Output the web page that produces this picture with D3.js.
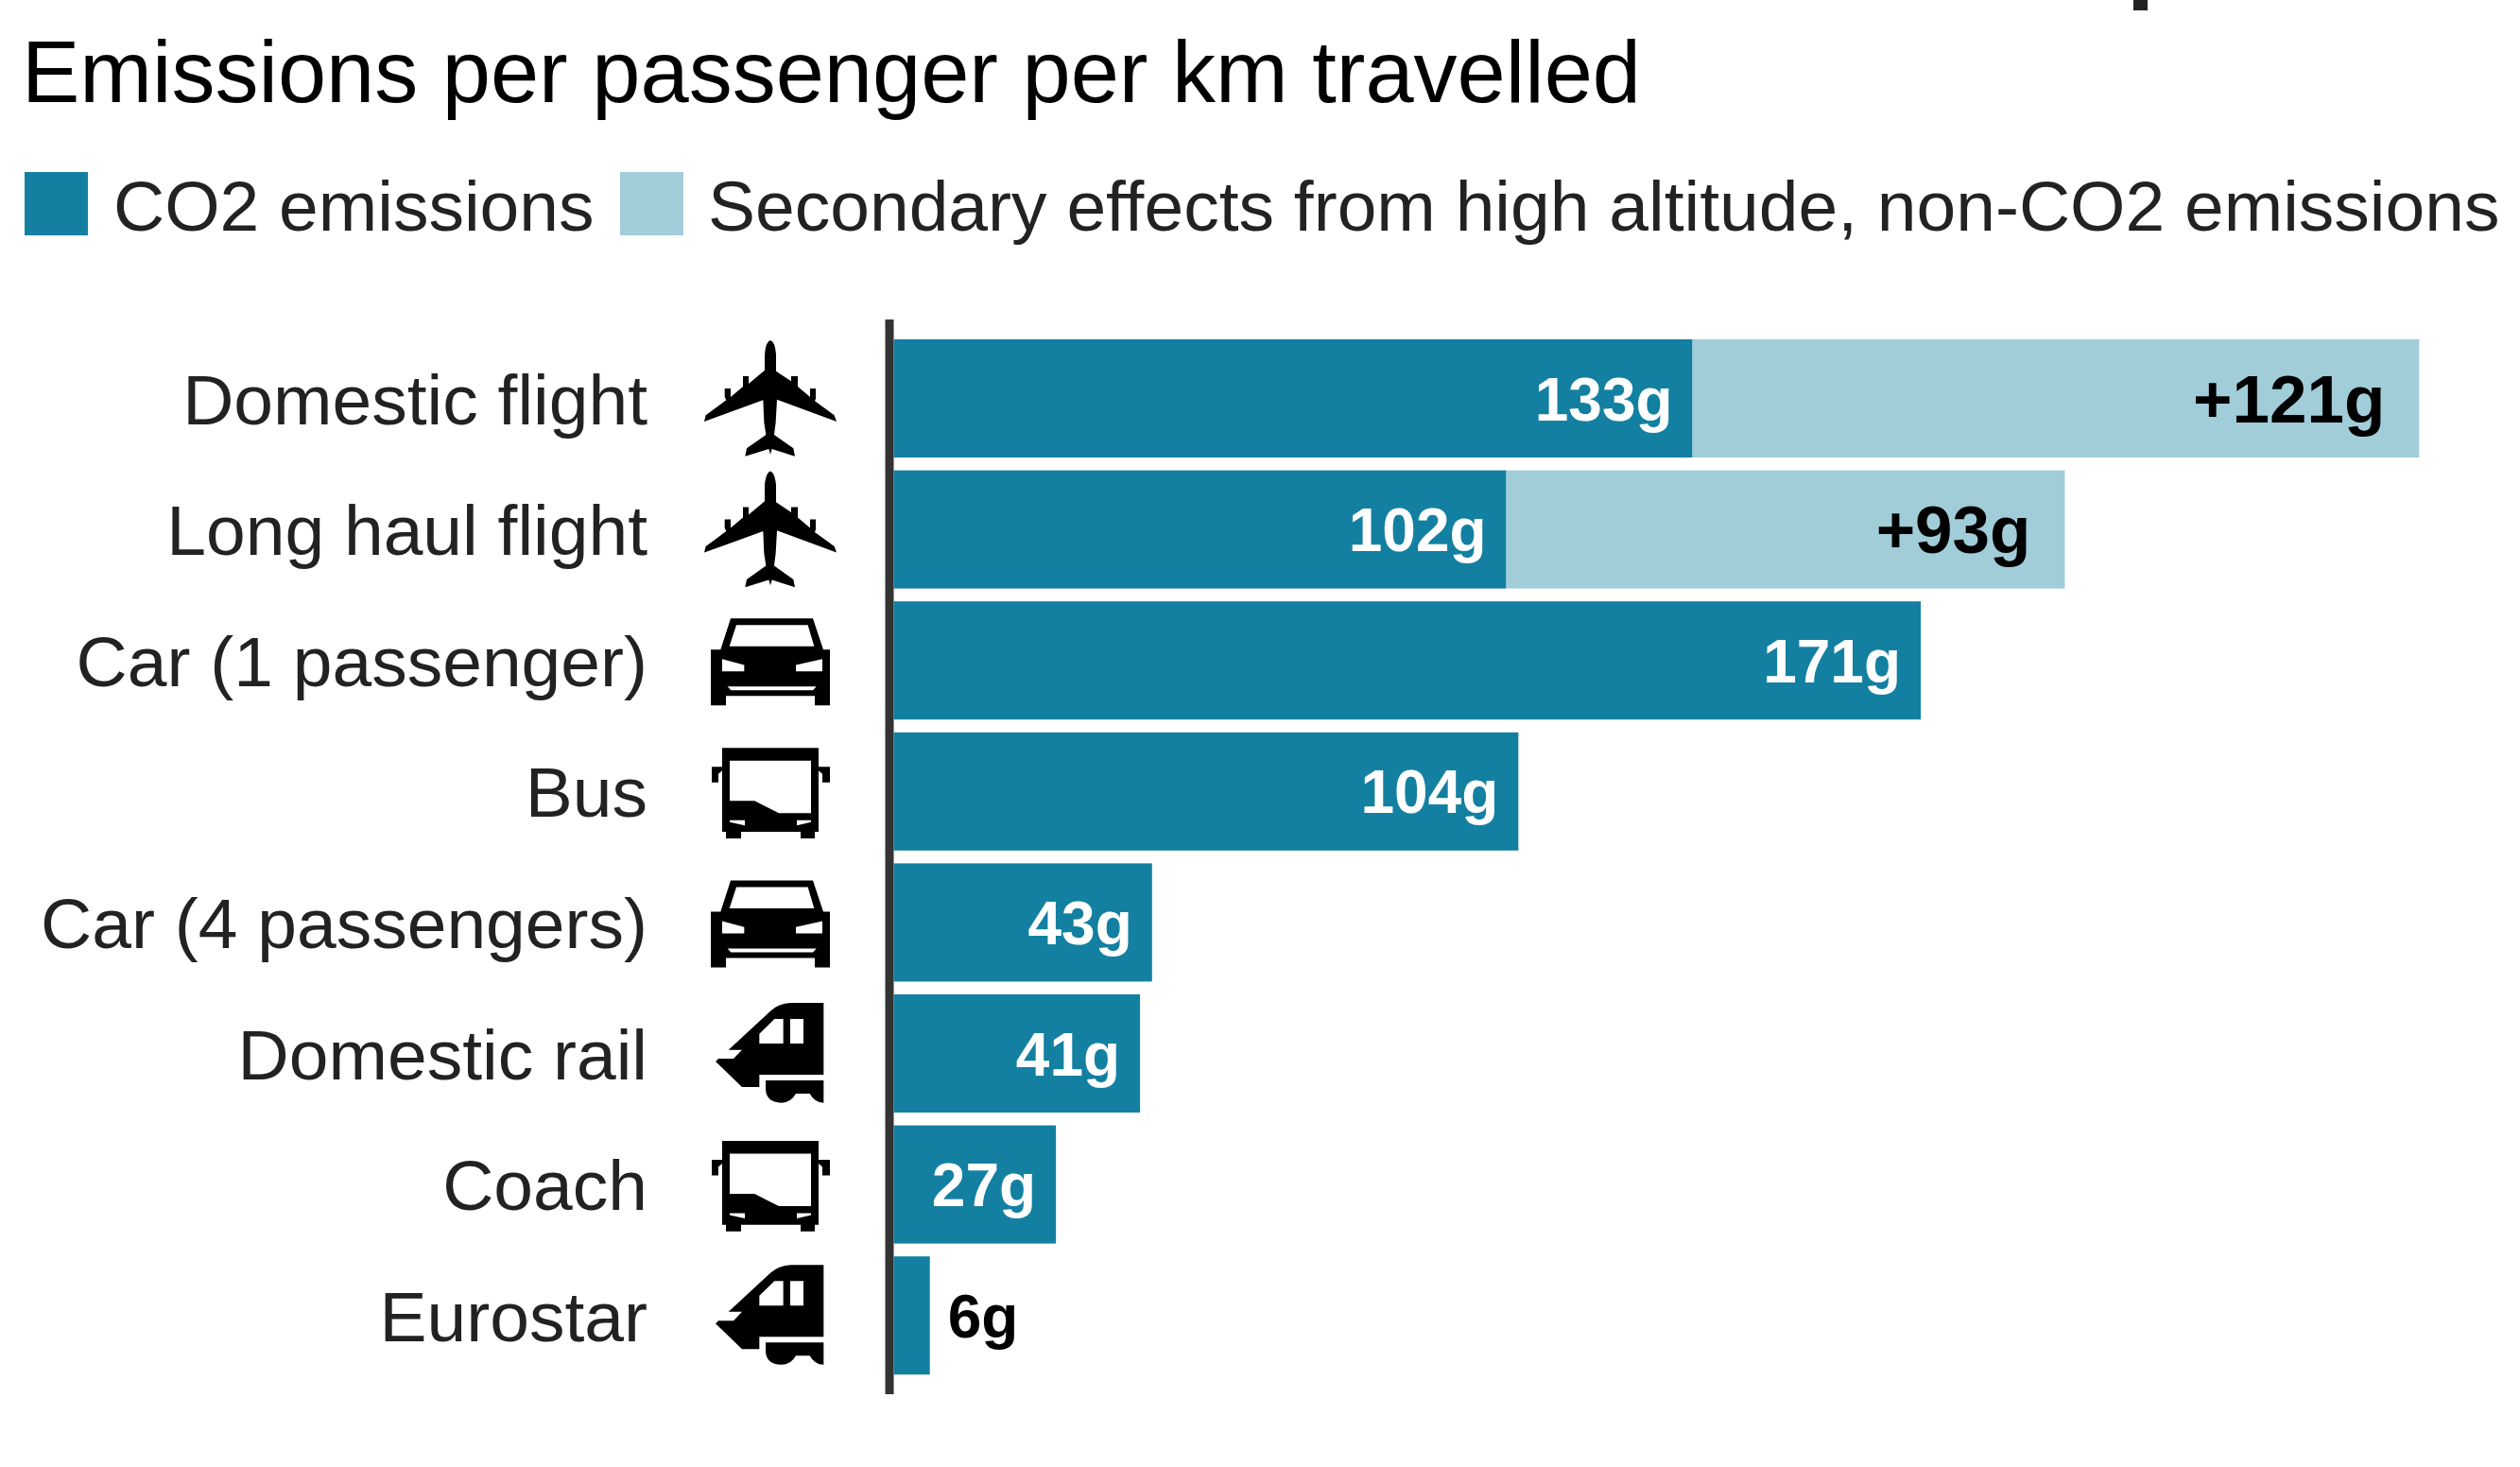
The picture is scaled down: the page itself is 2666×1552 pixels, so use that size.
<!DOCTYPE html>
<html>
<head>
<meta charset="utf-8">
<script src="https://cdn.jsdelivr.net/npm/d3@7/dist/d3.min.js"></script>
<style>
html,body{margin:0;padding:0;background:#fff}
svg{display:block}
text{font-family:"Liberation Sans",Arial,sans-serif}
</style>
</head>
<body>
<svg id="chart" width="2666" height="1552"></svg>
<script>
const categories = ["Domestic flight","Long haul flight","Car (1 passenger)","Bus","Car (4 passengers)","Domestic rail","Coach","Eurostar"];
const co2Values = [133,102,171,104,43,41,27,6];
const secondaryValues = [121,93,0,0,0,0,0,0];
const icons = ["plane","plane","car","bus","car","train","bus","train"];
const legendLabels = ["CO2 emissions","Secondary effects from high altitude, non-CO2 emissions"];
const titleText = "Emissions per passenger per km travelled";
const colors = {co2:"#1380A1", secondary:"#A1CDD9", axis:"#333333", label:"#222222"};

// Icon silhouettes, drawn in a 3x local grid; cy is the vertical centre of each
const iconShapes = {
  plane:{cy:244.5,d:"M345,60 Q330,65 327,105 L327,155 L276,198 L276,174 L258,174 L258,207 L219,240 L219,213 L200,213 L200,240 L205,250 L140,298 L135,318 L322,250 L325,320 L331,360 L270,403 L265,428 L340,405 L345,422 L350,405 L423,428 L418,403 L357,360 L362,320 L366,248 L555,318 L548,298 L486,253 L489,245 L489,213 L471,213 L471,240 L432,207 L432,174 L411,174 L411,190 L363,158 L363,105 Q360,65 345,60 Z"},
  car:{cy:1075.5,d:"M219,942 L480,942 L513,1041 L534,1041 L534,1218 L486,1218 L486,1188 L204,1188 L204,1218 L156,1218 L156,1041 L187,1041 Z M237,963 L215,1031 L484,1031 L464,963 Z M192,1071 L192,1110 L262,1110 L262,1090 Z M510,1071 L426,1090 L426,1110 L510,1110 Z M209,1158 L220,1170 L480,1170 L491,1158 Z"},
  bus:{cy:171,d:"M192,33 L498,33 L498,93 L534,93 L534,142 L510,142 L510,115 L498,105 L498,299 L486,299 L486,320 L441,320 L441,299 L252,299 L252,320 L204,320 L204,299 L192,299 L192,105 L180,115 L180,142 L159,142 L159,93 L192,93 Z M216,73 L216,201 L295,201 L372,240 L474,240 L474,73 Z M216,262 L216,268 L264,279 L264,262 Z M474,262 L429,262 L429,279 L474,268 Z"},
  train:{cy:634.5,d:"M514,474 L410,474 Q370,476 345,500 L212,623 L255,623 L228,651 L180,651 L171,660 L255,741 L310,741 L310,702 L514,702 Z M358,525 L310,572 L310,603 L386,603 L386,525 Z M408,525 L408,603 L450,603 L450,525 Z M330,720 L514,720 L514,791 Q485,790 470,762 L426,762 Q410,791 380,791 Q330,790 330,745 Z"}
};

const svg = d3.select("#chart");
const x = d3.scaleLinear().domain([0,171]).range([945.6,2032]);
const y = d3.scaleBand().domain(categories).range([352.2,1461]).paddingInner(0.098).paddingOuter(0.049);
const rows = categories.map((c,i)=>({c,co2:co2Values[i],sec:secondaryValues[i],icon:icons[i]}));

// Clipped descender of the cut-off heading at the top edge
svg.append("rect").attr("x",2257).attr("y",0).attr("width",15).attr("height",11).attr("fill",colors.label);

svg.append("text").attr("x",23).attr("y",108).attr("font-size",92).attr("fill","#000").text(titleText);

// Legend
const legendX = [[26,120],[656,749]];
const legendFill = [colors.co2,colors.secondary];
legendLabels.forEach((t,i)=>{
  svg.append("rect").attr("x",legendX[i][0]).attr("y",182).attr("width",67).attr("height",67).attr("fill",legendFill[i]);
  svg.append("text").attr("x",legendX[i][1]).attr("y",244).attr("font-size",75).attr("fill",colors.label).text(t);
});

// Bars
svg.append("g").selectAll("rect").data(rows).join("rect")
  .attr("x",x(0)).attr("y",d=>y(d.c)).attr("height",y.bandwidth())
  .attr("width",d=>x(d.co2)-x(0)).attr("fill",colors.co2);
svg.append("g").selectAll("rect").data(rows.filter(d=>d.sec>0)).join("rect")
  .attr("x",d=>x(d.co2)).attr("y",d=>y(d.c)).attr("height",y.bandwidth())
  .attr("width",d=>x(d.co2+d.sec)-x(d.co2)).attr("fill",colors.secondary);

// Baseline
svg.append("line").attr("x1",941).attr("x2",941).attr("y1",338).attr("y2",1475)
  .attr("stroke",colors.axis).attr("stroke-width",9);

// Category labels
const axis = svg.append("g").attr("transform","translate(685,0)")
  .call(d3.axisLeft(y).tickSize(0).tickPadding(0));
axis.select(".domain").remove();
axis.selectAll("text").attr("font-size",75).attr("font-family",null).attr("fill",colors.label).attr("dy",null).attr("y",27);

// Icons
svg.append("g").selectAll("path").data(rows).join("path")
  .attr("fill","#000").attr("fill-rule","evenodd")
  .attr("d",d=>iconShapes[d.icon].d)
  .attr("transform",d=>`translate(700,${y(d.c)+y.bandwidth()/2}) scale(${1/3}) translate(0,${-iconShapes[d.icon].cy})`);

// Value labels
const cy = d=>y(d.c)+y.bandwidth()/2+23;
svg.append("g").selectAll("text").data(rows).join("text")
  .attr("x",d=>d.co2<10?x(d.co2)+19:x(d.co2)-21).attr("y",cy)
  .attr("text-anchor",d=>d.co2<10?"start":"end")
  .attr("font-size",64).attr("font-weight","bold")
  .attr("fill",d=>d.co2<10?"#000":"#fff").text(d=>d.co2+"g");
svg.append("g").selectAll("text").data(rows.filter(d=>d.sec>0)).join("text")
  .attr("x",d=>x(d.co2+d.sec)-36).attr("y",d=>cy(d)+2)
  .attr("text-anchor","end").attr("font-size",71).attr("font-weight","bold")
  .attr("fill","#000").text(d=>"+"+d.sec+"g");
</script>
</body>
</html>
